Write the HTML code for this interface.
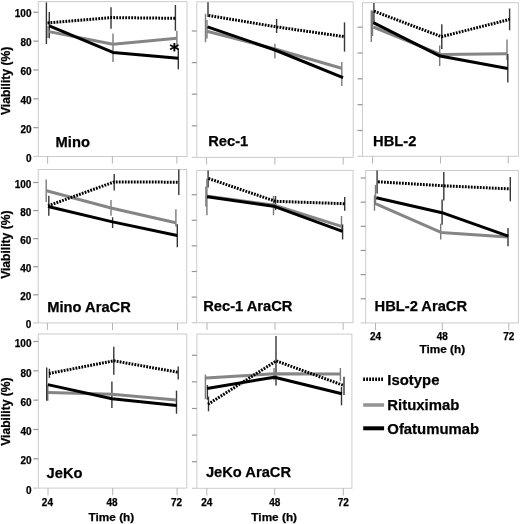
<!DOCTYPE html>
<html><head><meta charset="utf-8"><title>Viability</title>
<style>
html,body{margin:0;padding:0;background:#fff;}
body{width:520px;height:524px;overflow:hidden;}
svg{display:block;}
text{font-family:"Liberation Sans", Arial, Helvetica, sans-serif;font-weight:bold;fill:#000;stroke:#000;stroke-width:0.25px;}
.tk{font-size:10px;}
.ax{font-size:11.8px;}
.vy{font-size:12.1px;}
.lb{font-size:14.7px;}
.lg{font-size:14.9px;}
.ast{font-size:18.5px;font-weight:bold;font-family:"DejaVu Sans",sans-serif;}
</style></head>
<body>
<svg width="520" height="524" viewBox="0 0 520 524">
<rect width="520" height="524" fill="#fff"/>
<rect x="38.3" y="1.6" width="148.7" height="154.9" fill="none" stroke="#cccccc" stroke-width="1"/>
<line x1="33.3" y1="156.5" x2="38.3" y2="156.5" stroke="#cccccc" stroke-width="1.2"/>
<text x="31.5" y="161.6" text-anchor="end" class="tk">0</text>
<line x1="33.3" y1="127.66" x2="38.3" y2="127.66" stroke="#969696" stroke-width="1.2"/>
<text x="31.5" y="132.76" text-anchor="end" class="tk">20</text>
<line x1="33.3" y1="98.82" x2="38.3" y2="98.82" stroke="#969696" stroke-width="1.2"/>
<text x="31.5" y="103.92" text-anchor="end" class="tk">40</text>
<line x1="33.3" y1="69.98" x2="38.3" y2="69.98" stroke="#969696" stroke-width="1.2"/>
<text x="31.5" y="75.08" text-anchor="end" class="tk">60</text>
<line x1="33.3" y1="41.14" x2="38.3" y2="41.14" stroke="#969696" stroke-width="1.2"/>
<text x="31.5" y="46.24" text-anchor="end" class="tk">80</text>
<line x1="33.3" y1="12.3" x2="38.3" y2="12.3" stroke="#969696" stroke-width="1.2"/>
<text x="31.5" y="17.4" text-anchor="end" class="tk">100</text>
<line x1="47.6" y1="156.5" x2="47.6" y2="163.7" stroke="#b4b4b4" stroke-width="1"/>
<line x1="112.4" y1="156.5" x2="112.4" y2="163.7" stroke="#b4b4b4" stroke-width="1"/>
<line x1="176.9" y1="156.5" x2="176.9" y2="163.7" stroke="#b4b4b4" stroke-width="1"/>
<line x1="46.4" y1="2.4" x2="46.4" y2="44" stroke="#363636" stroke-width="1.4"/>
<line x1="49.3" y1="12" x2="49.3" y2="38.2" stroke="#363636" stroke-width="1.4"/>
<line x1="48" y1="26" x2="48" y2="38" stroke="#7a7a7a" stroke-width="1.4"/>
<line x1="111" y1="7.3" x2="111" y2="28.7" stroke="#363636" stroke-width="1.4"/>
<line x1="113" y1="33.4" x2="113" y2="62.1" stroke="#7a7a7a" stroke-width="1.4"/>
<line x1="175.4" y1="5" x2="175.4" y2="30.7" stroke="#363636" stroke-width="1.4"/>
<line x1="176.9" y1="30.7" x2="176.9" y2="48.6" stroke="#7a7a7a" stroke-width="1.4"/>
<line x1="178.3" y1="48.6" x2="178.3" y2="69.3" stroke="#363636" stroke-width="1.4"/>
<polyline points="49,31.6 113,44.3 176.9,38.3" fill="none" stroke="#858585" stroke-width="3" stroke-linejoin="round"/>
<polyline points="49.3,25.8 113,52.4 178.3,58.3" fill="none" stroke="#000" stroke-width="3" stroke-linejoin="round"/>
<polyline points="47.5,22.9 111,17.6 175.4,18.3" fill="none" stroke="#000" stroke-width="3" stroke-dasharray="1.8 1.2"/>
<text x="55.6" y="147.2" class="lb">Mino</text>
<rect x="196.8" y="1.8" width="156.4" height="155.6" fill="none" stroke="#cccccc" stroke-width="1"/>
<line x1="191.8" y1="157.4" x2="196.8" y2="157.4" stroke="#cccccc" stroke-width="1.2"/>
<line x1="191.8" y1="125.8" x2="196.8" y2="125.8" stroke="#969696" stroke-width="1.2"/>
<line x1="191.8" y1="94.2" x2="196.8" y2="94.2" stroke="#969696" stroke-width="1.2"/>
<line x1="191.8" y1="62.6" x2="196.8" y2="62.6" stroke="#969696" stroke-width="1.2"/>
<line x1="191.8" y1="31" x2="196.8" y2="31" stroke="#969696" stroke-width="1.2"/>
<line x1="206.6" y1="157.4" x2="206.6" y2="164.6" stroke="#b4b4b4" stroke-width="1"/>
<line x1="274.9" y1="157.4" x2="274.9" y2="164.6" stroke="#b4b4b4" stroke-width="1"/>
<line x1="343.2" y1="157.4" x2="343.2" y2="164.6" stroke="#b4b4b4" stroke-width="1"/>
<line x1="208" y1="2.3" x2="208" y2="17" stroke="#363636" stroke-width="1.4"/>
<line x1="205.5" y1="13.8" x2="205.5" y2="42.3" stroke="#7a7a7a" stroke-width="1.4"/>
<line x1="207" y1="20" x2="207" y2="38.5" stroke="#7a7a7a" stroke-width="1.4"/>
<line x1="276.6" y1="19" x2="276.6" y2="33" stroke="#363636" stroke-width="1.4"/>
<line x1="274.9" y1="43.8" x2="274.9" y2="58.5" stroke="#7a7a7a" stroke-width="1.4"/>
<line x1="344.5" y1="22.4" x2="344.5" y2="51.6" stroke="#363636" stroke-width="1.4"/>
<line x1="341.8" y1="62" x2="341.8" y2="86" stroke="#7a7a7a" stroke-width="1.4"/>
<polyline points="207,31.2 275,49 341.6,68.2" fill="none" stroke="#858585" stroke-width="3" stroke-linejoin="round"/>
<polyline points="207.5,26.9 275,50 343,77.7" fill="none" stroke="#000" stroke-width="3" stroke-linejoin="round"/>
<polyline points="208.5,15.4 276.6,26.9 344.5,36.7" fill="none" stroke="#000" stroke-width="3" stroke-dasharray="1.8 1.2"/>
<text x="208.2" y="145.9" class="lb">Rec-1</text>
<rect x="362.5" y="2.7" width="155.9" height="153.6" fill="none" stroke="#cccccc" stroke-width="1"/>
<line x1="357.5" y1="156.3" x2="362.5" y2="156.3" stroke="#cccccc" stroke-width="1.2"/>
<line x1="357.5" y1="130.48" x2="362.5" y2="130.48" stroke="#969696" stroke-width="1.2"/>
<line x1="357.5" y1="104.66" x2="362.5" y2="104.66" stroke="#969696" stroke-width="1.2"/>
<line x1="357.5" y1="78.84" x2="362.5" y2="78.84" stroke="#969696" stroke-width="1.2"/>
<line x1="357.5" y1="53.02" x2="362.5" y2="53.02" stroke="#969696" stroke-width="1.2"/>
<line x1="357.5" y1="27.2" x2="362.5" y2="27.2" stroke="#969696" stroke-width="1.2"/>
<line x1="372.5" y1="156.3" x2="372.5" y2="163.5" stroke="#b4b4b4" stroke-width="1"/>
<line x1="440.5" y1="156.3" x2="440.5" y2="163.5" stroke="#b4b4b4" stroke-width="1"/>
<line x1="508.2" y1="156.3" x2="508.2" y2="163.5" stroke="#b4b4b4" stroke-width="1"/>
<line x1="373.9" y1="2.9" x2="373.9" y2="23.9" stroke="#363636" stroke-width="1.4"/>
<line x1="371.3" y1="10.5" x2="371.3" y2="42" stroke="#7a7a7a" stroke-width="1.4"/>
<line x1="372.5" y1="10.5" x2="372.5" y2="36" stroke="#7a7a7a" stroke-width="1.4"/>
<line x1="441.8" y1="24.2" x2="441.8" y2="49" stroke="#363636" stroke-width="1.4"/>
<line x1="439.7" y1="45.5" x2="439.7" y2="65.9" stroke="#7a7a7a" stroke-width="1.4"/>
<line x1="509.6" y1="8.5" x2="509.6" y2="30.3" stroke="#363636" stroke-width="1.4"/>
<line x1="507" y1="39.5" x2="507" y2="60" stroke="#7a7a7a" stroke-width="1.4"/>
<line x1="507.8" y1="54" x2="507.8" y2="82.4" stroke="#363636" stroke-width="1.4"/>
<polyline points="373.3,27 441,54.6 506.8,53.7" fill="none" stroke="#858585" stroke-width="3" stroke-linejoin="round"/>
<polyline points="373.3,22.7 440,56.1 507.7,68.6" fill="none" stroke="#000" stroke-width="3" stroke-linejoin="round"/>
<polyline points="374,11.2 441.5,36.7 509.6,19.4" fill="none" stroke="#000" stroke-width="3" stroke-dasharray="1.8 1.2"/>
<text x="373.1" y="145.9" class="lb">HBL-2</text>
<rect x="38.2" y="169.5" width="148.5" height="153.4" fill="none" stroke="#cccccc" stroke-width="1"/>
<line x1="33.2" y1="322.9" x2="38.2" y2="322.9" stroke="#cccccc" stroke-width="1.2"/>
<text x="31.4" y="328" text-anchor="end" class="tk">0</text>
<line x1="33.2" y1="294.82" x2="38.2" y2="294.82" stroke="#969696" stroke-width="1.2"/>
<text x="31.4" y="299.92" text-anchor="end" class="tk">20</text>
<line x1="33.2" y1="266.74" x2="38.2" y2="266.74" stroke="#969696" stroke-width="1.2"/>
<text x="31.4" y="271.84" text-anchor="end" class="tk">40</text>
<line x1="33.2" y1="238.66" x2="38.2" y2="238.66" stroke="#969696" stroke-width="1.2"/>
<text x="31.4" y="243.76" text-anchor="end" class="tk">60</text>
<line x1="33.2" y1="210.58" x2="38.2" y2="210.58" stroke="#969696" stroke-width="1.2"/>
<text x="31.4" y="215.68" text-anchor="end" class="tk">80</text>
<line x1="33.2" y1="182.5" x2="38.2" y2="182.5" stroke="#969696" stroke-width="1.2"/>
<text x="31.4" y="187.6" text-anchor="end" class="tk">100</text>
<line x1="47.4" y1="322.9" x2="47.4" y2="330.1" stroke="#b4b4b4" stroke-width="1"/>
<line x1="112.5" y1="322.9" x2="112.5" y2="330.1" stroke="#b4b4b4" stroke-width="1"/>
<line x1="177.5" y1="322.9" x2="177.5" y2="330.1" stroke="#b4b4b4" stroke-width="1"/>
<line x1="46.2" y1="179.6" x2="46.2" y2="201.9" stroke="#7a7a7a" stroke-width="1.4"/>
<line x1="48.8" y1="195.8" x2="48.8" y2="215.8" stroke="#363636" stroke-width="1.4"/>
<line x1="114.2" y1="173.9" x2="114.2" y2="190.4" stroke="#363636" stroke-width="1.4"/>
<line x1="111" y1="200" x2="111" y2="215.8" stroke="#7a7a7a" stroke-width="1.4"/>
<line x1="112.6" y1="217.3" x2="112.6" y2="228" stroke="#363636" stroke-width="1.4"/>
<line x1="178.8" y1="169.6" x2="178.8" y2="195" stroke="#363636" stroke-width="1.4"/>
<line x1="175.9" y1="209.2" x2="175.9" y2="226.5" stroke="#7a7a7a" stroke-width="1.4"/>
<line x1="177.3" y1="224.2" x2="177.3" y2="247.3" stroke="#363636" stroke-width="1.4"/>
<polyline points="46.5,190.8 111,208 175.8,222.8" fill="none" stroke="#858585" stroke-width="3" stroke-linejoin="round"/>
<polyline points="48,206.5 112.6,221.9 177.2,235.5" fill="none" stroke="#000" stroke-width="3" stroke-linejoin="round"/>
<polyline points="48,205.8 114.2,181.9 178.8,182.2" fill="none" stroke="#000" stroke-width="3" stroke-dasharray="1.8 1.2"/>
<text x="47.3" y="311.5" class="lb">Mino AraCR</text>
<rect x="196.7" y="170.4" width="156.3" height="152.3" fill="none" stroke="#cccccc" stroke-width="1"/>
<line x1="191.7" y1="322.7" x2="196.7" y2="322.7" stroke="#cccccc" stroke-width="1.2"/>
<line x1="191.7" y1="297.1" x2="196.7" y2="297.1" stroke="#969696" stroke-width="1.2"/>
<line x1="191.7" y1="271.5" x2="196.7" y2="271.5" stroke="#969696" stroke-width="1.2"/>
<line x1="191.7" y1="245.9" x2="196.7" y2="245.9" stroke="#969696" stroke-width="1.2"/>
<line x1="191.7" y1="220.3" x2="196.7" y2="220.3" stroke="#969696" stroke-width="1.2"/>
<line x1="191.7" y1="194.7" x2="196.7" y2="194.7" stroke="#969696" stroke-width="1.2"/>
<line x1="207" y1="322.7" x2="207" y2="329.9" stroke="#b4b4b4" stroke-width="1"/>
<line x1="275" y1="322.7" x2="275" y2="329.9" stroke="#b4b4b4" stroke-width="1"/>
<line x1="343.1" y1="322.7" x2="343.1" y2="329.9" stroke="#b4b4b4" stroke-width="1"/>
<line x1="208.1" y1="170.4" x2="208.1" y2="187.5" stroke="#363636" stroke-width="1.4"/>
<line x1="205.9" y1="186.6" x2="205.9" y2="206.5" stroke="#7a7a7a" stroke-width="1.4"/>
<line x1="206.9" y1="178.8" x2="206.9" y2="215.2" stroke="#7a7a7a" stroke-width="1.4"/>
<line x1="275.5" y1="196" x2="275.5" y2="210" stroke="#363636" stroke-width="1.4"/>
<line x1="273.5" y1="196" x2="273.5" y2="215.2" stroke="#7a7a7a" stroke-width="1.4"/>
<line x1="344.7" y1="197" x2="344.7" y2="210.8" stroke="#363636" stroke-width="1.4"/>
<line x1="341.5" y1="216" x2="341.5" y2="232" stroke="#7a7a7a" stroke-width="1.4"/>
<line x1="342.6" y1="224.4" x2="342.6" y2="239.5" stroke="#363636" stroke-width="1.4"/>
<polyline points="206,196 273.5,205 341.5,226.4" fill="none" stroke="#858585" stroke-width="3" stroke-linejoin="round"/>
<polyline points="207,196.7 273.5,206.2 342.5,231.3" fill="none" stroke="#000" stroke-width="3" stroke-linejoin="round"/>
<polyline points="208.5,178.5 275.5,201.3 344.7,203.7" fill="none" stroke="#000" stroke-width="3" stroke-dasharray="1.8 1.2"/>
<text x="203.2" y="311" class="lb">Rec-1 AraCR</text>
<rect x="365.7" y="170.5" width="152.7" height="152.4" fill="none" stroke="#cccccc" stroke-width="1"/>
<line x1="360.7" y1="322.9" x2="365.7" y2="322.9" stroke="#cccccc" stroke-width="1.2"/>
<line x1="360.7" y1="298.75" x2="365.7" y2="298.75" stroke="#969696" stroke-width="1.2"/>
<line x1="360.7" y1="274.6" x2="365.7" y2="274.6" stroke="#969696" stroke-width="1.2"/>
<line x1="360.7" y1="250.45" x2="365.7" y2="250.45" stroke="#969696" stroke-width="1.2"/>
<line x1="360.7" y1="226.3" x2="365.7" y2="226.3" stroke="#969696" stroke-width="1.2"/>
<line x1="360.7" y1="202.15" x2="365.7" y2="202.15" stroke="#969696" stroke-width="1.2"/>
<line x1="360.7" y1="178" x2="365.7" y2="178" stroke="#969696" stroke-width="1.2"/>
<line x1="375.5" y1="322.9" x2="375.5" y2="330.1" stroke="#b4b4b4" stroke-width="1"/>
<text x="375.5" y="339.8" text-anchor="middle" class="tk">24</text>
<line x1="442.3" y1="322.9" x2="442.3" y2="330.1" stroke="#b4b4b4" stroke-width="1"/>
<text x="442.3" y="339.8" text-anchor="middle" class="tk">48</text>
<line x1="508.8" y1="322.9" x2="508.8" y2="330.1" stroke="#b4b4b4" stroke-width="1"/>
<text x="508.8" y="339.8" text-anchor="middle" class="tk">72</text>
<text x="442.3" y="353.3" text-anchor="middle" class="ax">Time (h)</text>
<line x1="377.1" y1="170.5" x2="377.1" y2="193.5" stroke="#363636" stroke-width="1.4"/>
<line x1="374.5" y1="195.3" x2="374.5" y2="210.8" stroke="#7a7a7a" stroke-width="1.4"/>
<line x1="375.5" y1="184.9" x2="375.5" y2="205" stroke="#7a7a7a" stroke-width="1.4"/>
<line x1="443.8" y1="171.9" x2="443.8" y2="200.5" stroke="#363636" stroke-width="1.4"/>
<line x1="442.1" y1="199.6" x2="442.1" y2="224.7" stroke="#363636" stroke-width="1.4"/>
<line x1="440.7" y1="223.8" x2="440.7" y2="239.4" stroke="#7a7a7a" stroke-width="1.4"/>
<line x1="510.3" y1="177.1" x2="510.3" y2="201.3" stroke="#363636" stroke-width="1.4"/>
<line x1="508" y1="228.1" x2="508" y2="246.3" stroke="#363636" stroke-width="1.4"/>
<polyline points="376,203.9 441,232.4 507.5,237" fill="none" stroke="#858585" stroke-width="3" stroke-linejoin="round"/>
<polyline points="376.3,197.7 442,212.7 508.2,236.2" fill="none" stroke="#000" stroke-width="3" stroke-linejoin="round"/>
<polyline points="378,181.8 443.8,185.8 510.1,188.9" fill="none" stroke="#000" stroke-width="3" stroke-dasharray="1.8 1.2"/>
<text x="374.6" y="311.4" class="lb">HBL-2 AraCR</text>
<rect x="38.3" y="334" width="148.5" height="154.1" fill="none" stroke="#cccccc" stroke-width="1"/>
<line x1="33.3" y1="488.1" x2="38.3" y2="488.1" stroke="#cccccc" stroke-width="1.2"/>
<text x="31.5" y="493.8" text-anchor="end" class="tk">0</text>
<line x1="33.3" y1="458.78" x2="38.3" y2="458.78" stroke="#969696" stroke-width="1.2"/>
<text x="31.5" y="464.48" text-anchor="end" class="tk">20</text>
<line x1="33.3" y1="429.46" x2="38.3" y2="429.46" stroke="#969696" stroke-width="1.2"/>
<text x="31.5" y="435.16" text-anchor="end" class="tk">40</text>
<line x1="33.3" y1="400.14" x2="38.3" y2="400.14" stroke="#969696" stroke-width="1.2"/>
<text x="31.5" y="405.84" text-anchor="end" class="tk">60</text>
<line x1="33.3" y1="370.82" x2="38.3" y2="370.82" stroke="#969696" stroke-width="1.2"/>
<text x="31.5" y="376.52" text-anchor="end" class="tk">80</text>
<line x1="33.3" y1="341.5" x2="38.3" y2="341.5" stroke="#969696" stroke-width="1.2"/>
<text x="31.5" y="347.2" text-anchor="end" class="tk">100</text>
<line x1="48" y1="488.1" x2="48" y2="495.3" stroke="#b4b4b4" stroke-width="1"/>
<text x="47.4" y="505.7" text-anchor="middle" class="tk">24</text>
<line x1="112.7" y1="488.1" x2="112.7" y2="495.3" stroke="#b4b4b4" stroke-width="1"/>
<text x="112.1" y="505.7" text-anchor="middle" class="tk">48</text>
<line x1="177.1" y1="488.1" x2="177.1" y2="495.3" stroke="#b4b4b4" stroke-width="1"/>
<text x="176.5" y="505.7" text-anchor="middle" class="tk">72</text>
<text x="111.4" y="521" text-anchor="middle" class="ax">Time (h)</text>
<line x1="47.8" y1="386" x2="47.8" y2="400.8" stroke="#7a7a7a" stroke-width="1.4"/>
<line x1="46.7" y1="367.6" x2="46.7" y2="400.8" stroke="#363636" stroke-width="1.4"/>
<line x1="49.4" y1="368.8" x2="49.4" y2="377.9" stroke="#363636" stroke-width="1.4"/>
<line x1="113.8" y1="346.7" x2="113.8" y2="374.8" stroke="#363636" stroke-width="1.4"/>
<line x1="111.9" y1="381.5" x2="111.9" y2="408" stroke="#363636" stroke-width="1.4"/>
<line x1="178.2" y1="366.6" x2="178.2" y2="379.5" stroke="#363636" stroke-width="1.4"/>
<line x1="176.5" y1="390.6" x2="176.5" y2="413.7" stroke="#363636" stroke-width="1.4"/>
<polyline points="48,392.6 112,394.2 176.2,400.1" fill="none" stroke="#858585" stroke-width="3" stroke-linejoin="round"/>
<polyline points="47.8,384.6 112,398.8 176.7,405.6" fill="none" stroke="#000" stroke-width="3" stroke-linejoin="round"/>
<polyline points="49,373.5 113.8,360.8 178.2,372.3" fill="none" stroke="#000" stroke-width="3" stroke-dasharray="1.8 1.2"/>
<text x="46.6" y="477.5" class="lb">JeKo</text>
<rect x="196.9" y="334.1" width="155" height="154.2" fill="none" stroke="#cccccc" stroke-width="1"/>
<line x1="191.9" y1="488.3" x2="196.9" y2="488.3" stroke="#cccccc" stroke-width="1.2"/>
<line x1="191.9" y1="461.7" x2="196.9" y2="461.7" stroke="#969696" stroke-width="1.2"/>
<line x1="191.9" y1="435.1" x2="196.9" y2="435.1" stroke="#969696" stroke-width="1.2"/>
<line x1="191.9" y1="408.5" x2="196.9" y2="408.5" stroke="#969696" stroke-width="1.2"/>
<line x1="191.9" y1="381.9" x2="196.9" y2="381.9" stroke="#969696" stroke-width="1.2"/>
<line x1="191.9" y1="355.3" x2="196.9" y2="355.3" stroke="#969696" stroke-width="1.2"/>
<line x1="206.8" y1="488.3" x2="206.8" y2="495.5" stroke="#b4b4b4" stroke-width="1"/>
<text x="206.8" y="505.7" text-anchor="middle" class="tk">24</text>
<line x1="274.7" y1="488.3" x2="274.7" y2="495.5" stroke="#b4b4b4" stroke-width="1"/>
<text x="274.7" y="505.7" text-anchor="middle" class="tk">48</text>
<line x1="343.3" y1="488.3" x2="343.3" y2="495.5" stroke="#b4b4b4" stroke-width="1"/>
<text x="343.3" y="505.7" text-anchor="middle" class="tk">72</text>
<text x="274.2" y="520.8" text-anchor="middle" class="ax">Time (h)</text>
<line x1="205.4" y1="374.6" x2="205.4" y2="399.2" stroke="#7a7a7a" stroke-width="1.4"/>
<line x1="208.5" y1="396.6" x2="208.5" y2="411.3" stroke="#363636" stroke-width="1.4"/>
<line x1="207.4" y1="385" x2="207.4" y2="399.8" stroke="#363636" stroke-width="1.4"/>
<line x1="276" y1="336" x2="276" y2="385.4" stroke="#363636" stroke-width="1.4"/>
<line x1="274" y1="368" x2="274" y2="380.2" stroke="#7a7a7a" stroke-width="1.4"/>
<line x1="344" y1="376.7" x2="344" y2="394.9" stroke="#363636" stroke-width="1.4"/>
<line x1="340.4" y1="368" x2="340.4" y2="381" stroke="#7a7a7a" stroke-width="1.4"/>
<line x1="341.5" y1="387" x2="341.5" y2="405.3" stroke="#363636" stroke-width="1.4"/>
<polyline points="206,377.9 274,373.8 340.1,374" fill="none" stroke="#858585" stroke-width="3" stroke-linejoin="round"/>
<polyline points="207,388.4 274.5,377.2 341.8,393.8" fill="none" stroke="#000" stroke-width="3" stroke-linejoin="round"/>
<polyline points="208,404.3 276.3,360.9 342.9,385.2" fill="none" stroke="#000" stroke-width="3" stroke-dasharray="1.8 1.2"/>
<text x="205.9" y="477.1" class="lb">JeKo AraCR</text>
<text x="174.3" y="56.3" text-anchor="middle" class="ast">*</text>
<text transform="translate(10.2 80.9) rotate(-90)" text-anchor="middle" class="vy">Viability (%)</text>
<text transform="translate(10.2 244.7) rotate(-90)" text-anchor="middle" class="vy">Viability (%)</text>
<text transform="translate(10.2 411.6) rotate(-90)" text-anchor="middle" class="vy">Viability (%)</text>
<line x1="363.2" y1="379.3" x2="384.1" y2="379.3" stroke="#000" stroke-width="3.4" stroke-dasharray="1.8 1.2"/>
<text x="387.3" y="385.2" class="lg">Isotype</text>
<line x1="363.2" y1="405" x2="384.1" y2="405" stroke="#959595" stroke-width="3.6"/>
<text x="387.3" y="409.6" class="lg">Rituximab</text>
<line x1="363.2" y1="428.3" x2="384.1" y2="428.3" stroke="#000" stroke-width="4"/>
<text x="387.3" y="434" class="lg">Ofatumumab</text>
</svg>
</body></html>
